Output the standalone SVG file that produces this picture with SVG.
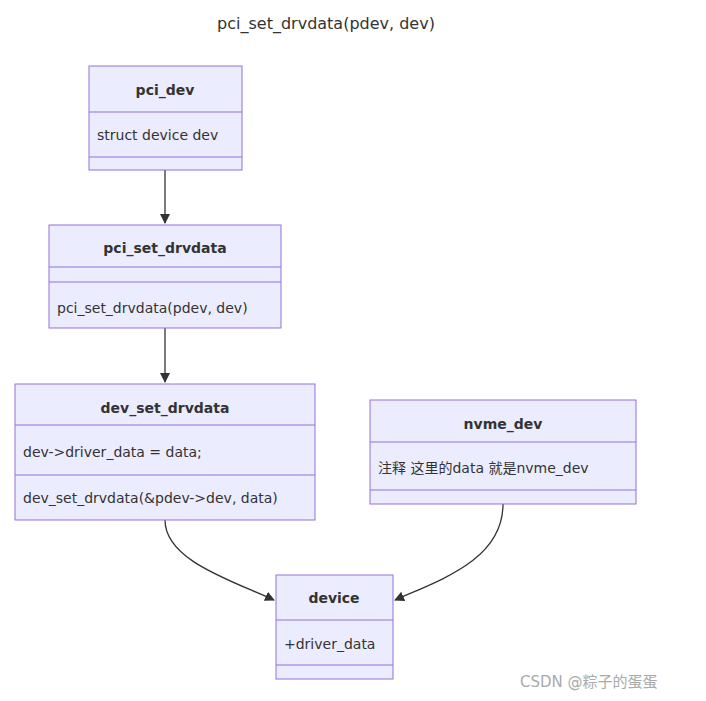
<svg xmlns="http://www.w3.org/2000/svg" width="706" height="701" viewBox="0 0 706 701">
<style>
.b{fill:#ececff;stroke:#9370db;stroke-width:1}
.l{stroke:#9370db;stroke-width:1}
text{font-family:"DejaVu Sans","Noto Sans CJK SC",sans-serif;font-size:14px;fill:#333}
.h{font-weight:bold;text-anchor:middle}
.c{fill:none;stroke:#333;stroke-width:1.3}
</style>
<defs><marker id="a" markerWidth="10" markerHeight="10" refX="9" refY="5" orient="auto" markerUnits="userSpaceOnUse"><path d="M0,0L10,5L0,10z" fill="#333"/></marker></defs>
<rect width="706" height="701" fill="#fff"/>
<text x="326" y="29" style="font-size:16px;text-anchor:middle">pci_set_drvdata(pdev, dev)</text>
<g id="connectors">
<path class="c" d="M165,170V223" marker-end="url(#a)"/>
<path class="c" d="M165,328V382" marker-end="url(#a)"/>
<path class="c" d="M165,520C165,560 230,580 274,600" marker-end="url(#a)"/>
<path class="c" d="M503,504C503,560 440,580 395,600" marker-end="url(#a)"/>
</g>
<g id="pci_dev"><rect class="b" x="89" y="66" width="153" height="104"/><line class="l" x1="89" y1="112" x2="242" y2="112"/><line class="l" x1="89" y1="157" x2="242" y2="157"/><text class="h" x="165" y="95">pci_dev</text><text x="97" y="140">struct device dev</text></g>
<g id="pci_set_drvdata"><rect class="b" x="49" y="225" width="232" height="103"/><line class="l" x1="49" y1="267" x2="281" y2="267"/><line class="l" x1="49" y1="282" x2="281" y2="282"/><text class="h" x="165" y="253">pci_set_drvdata</text><text x="57" y="313">pci_set_drvdata(pdev, dev)</text></g>
<g id="dev_set_drvdata"><rect class="b" x="15" y="384" width="300" height="136"/><line class="l" x1="15" y1="425" x2="315" y2="425"/><line class="l" x1="15" y1="475" x2="315" y2="475"/><text class="h" x="165" y="413">dev_set_drvdata</text><text x="23" y="457">dev-&gt;driver_data = data;</text><text x="23" y="503">dev_set_drvdata(&amp;pdev-&gt;dev, data)</text></g>
<g id="nvme_dev"><rect class="b" x="370" y="400" width="266" height="104"/><line class="l" x1="370" y1="442" x2="636" y2="442"/><line class="l" x1="370" y1="490" x2="636" y2="490"/><text class="h" x="503" y="429">nvme_dev</text><text x="378" y="473">注释 这里的data 就是nvme_dev</text></g>
<g id="device"><rect class="b" x="276" y="575" width="117" height="104"/><line class="l" x1="276" y1="620" x2="393" y2="620"/><line class="l" x1="276" y1="665" x2="393" y2="665"/><text class="h" x="334" y="603">device</text><text x="284" y="649">+driver_data</text></g>
<text x="520" y="687" style="font-size:15px;fill:#aaa">CSDN @粽子的蛋蛋</text>
</svg>
